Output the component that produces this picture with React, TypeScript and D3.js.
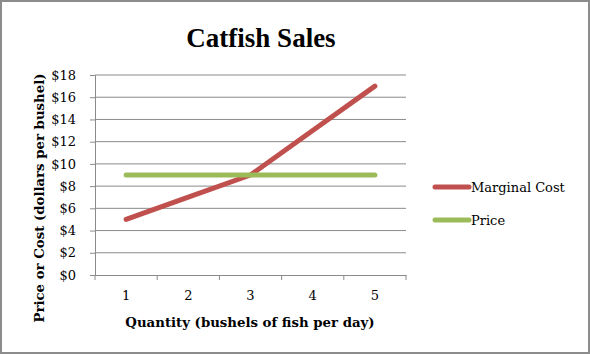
import * as d3 from 'd3'
import { useRef, useEffect } from 'react'

const quantities = ['1', '2', '3', '4', '5']
const marginalCost = [5, 7, 9, 13, 17]
const price = [9, 9, 9, 9, 9]
const yTicks = [0, 2, 4, 6, 8, 10, 12, 14, 16, 18]
const seriesNames = ['Marginal Cost', 'Price']
const seriesColors = ['#C0504D', '#9BBB59']

const width = 590
const height = 354
const font = '"DejaVu Serif", "Liberation Serif", serif'

export default function App() {
    const svgRef = useRef<SVGSVGElement>(null)

    useEffect(() => {
        const svg = d3.select(svgRef.current)
        svg.selectAll('*').remove()

        svg.append('rect')
            .attr('x', 1).attr('y', 1)
            .attr('width', width - 2).attr('height', height - 2)
            .attr('fill', 'white')
            .attr('stroke', '#8c8c8c')
            .attr('stroke-width', 2)

        const margin = { top: 75, left: 95, right: 406, bottom: 275 }

        const xScale = d3.scaleBand()
            .domain(quantities)
            .range([margin.left, margin.right])

        const yScale = d3.scaleLinear()
            .domain([0, 18])
            .range([margin.bottom, margin.top])

        // gridlines
        svg.append('g')
            .selectAll('line')
            .data(yTicks.slice(1))
            .enter()
            .append('line')
            .attr('x1', margin.left).attr('x2', margin.right)
            .attr('y1', d => yScale(d)).attr('y2', d => yScale(d))
            .attr('stroke', '#8a8a8a')
            .attr('stroke-width', 1)

        const yAxis = svg.append('g')
            .attr('transform', `translate(${margin.left},0)`)
            .call(d3.axisLeft(yScale).tickValues(yTicks).tickSize(5).tickPadding(14)
                .tickFormat(d => `$${d}`))
        yAxis.select('.domain').attr('stroke', '#8a8a8a')
        yAxis.selectAll('line').attr('stroke', '#8a8a8a')
        yAxis.selectAll('text')
            .attr('font-family', font)
            .attr('font-size', 13)
            .attr('fill', '#000')

        const xAxis = svg.append('g')
            .attr('transform', `translate(0,${margin.bottom})`)
            .call(d3.axisBottom(xScale).tickSize(0).tickPadding(16))
        xAxis.select('.domain').attr('stroke', '#8a8a8a')
        xAxis.selectAll('text')
            .attr('font-family', font)
            .attr('font-size', 13)
            .attr('fill', '#000')
        // band boundary ticks
        svg.append('g')
            .selectAll('line')
            .data(quantities.concat(['end']))
            .enter()
            .append('line')
            .attr('x1', (d, i) => margin.left + i * xScale.bandwidth())
            .attr('x2', (d, i) => margin.left + i * xScale.bandwidth())
            .attr('y1', margin.bottom).attr('y2', margin.bottom + 5)
            .attr('stroke', '#8a8a8a')

        const line = d3.line<number>()
            .x((d, i) => (xScale(quantities[i]) as number) + xScale.bandwidth() / 2)
            .y(d => yScale(d))

        ;[marginalCost, price].forEach((s, i) => {
            svg.append('path')
                .attr('d', line(s))
                .attr('fill', 'none')
                .attr('stroke', seriesColors[i])
                .attr('stroke-width', 5)
                .attr('stroke-linecap', 'round')
                .attr('stroke-linejoin', 'round')
        })

        // title
        svg.append('text')
            .attr('x', 261).attr('y', 47)
            .attr('text-anchor', 'middle')
            .attr('font-family', '"Liberation Serif", serif')
            .attr('font-weight', 'bold')
            .attr('font-size', 27)
            .text('Catfish Sales')

        svg.append('text')
            .attr('x', 250).attr('y', 327)
            .attr('text-anchor', 'middle')
            .attr('font-family', font)
            .attr('font-weight', 'bold')
            .attr('font-size', 13.3)
            .text('Quantity (bushels of fish per day)')

        svg.append('text')
            .attr('transform', 'translate(44,198) rotate(-90)')
            .attr('text-anchor', 'middle')
            .attr('font-family', font)
            .attr('font-weight', 'bold')
            .attr('font-size', 13.3)
            .text('Price or Cost (dollars per bushel)')

        const legend = svg.append('g')
        seriesNames.forEach((name, i) => {
            const y = 187 + i * 33
            legend.append('line')
                .attr('x1', 435).attr('x2', 469)
                .attr('y1', y).attr('y2', y)
                .attr('stroke', seriesColors[i])
                .attr('stroke-width', 5)
                .attr('stroke-linecap', 'round')
            legend.append('text')
                .attr('x', 471).attr('y', y + 5)
                .attr('font-family', font)
                .attr('font-size', 13)
                .text(name)
        })
    }, [])

    return (
        <svg ref={svgRef} width={width} height={height}
            style={{ position: 'absolute', left: 0, top: 0 }}></svg>
    )
}
